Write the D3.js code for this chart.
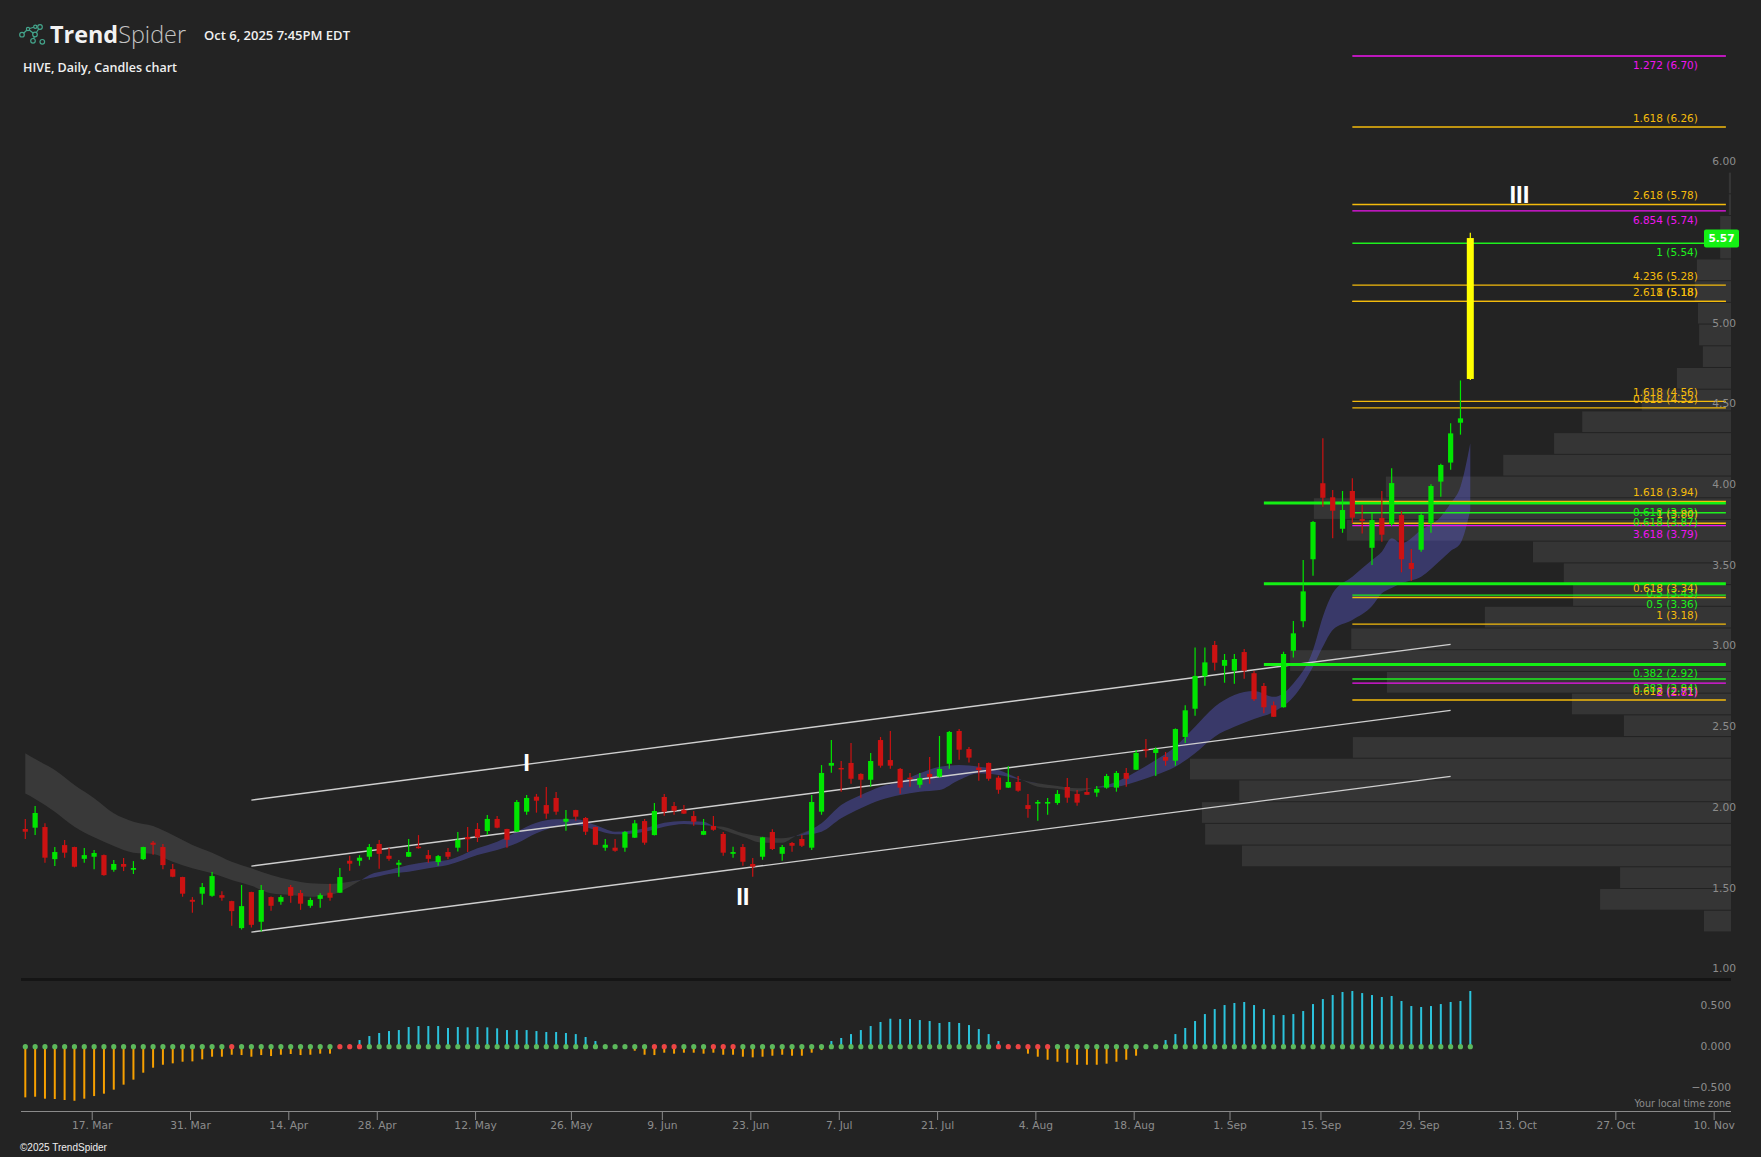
<!DOCTYPE html>
<html>
<head>
<meta charset="utf-8">
<script src="https://cdn.jsdelivr.net/npm/d3@7"></script>
<style>
html, body { margin: 0; padding: 0; background: #232323; }
svg { display: block; }
</style>
</head>
<body>
<div id="chart"></div>
<script>

// HIVE daily candles, first bar 6 Mar 2025
var firstDay = new Date(2025, 2, 6);
var holidays = ["2025-04-18", "2025-05-26", "2025-06-19", "2025-07-04", "2025-09-01"];

var opens = [1.911,1.919,1.923,1.724,1.811,1.799,1.726,1.739,1.749,1.658,
  1.694,1.658,1.724,1.826,1.799,1.662,1.613,1.472,1.510,1.497,
  1.501,1.464,1.297,1.520,1.336,1.489,1.460,1.551,1.514,1.435,
  1.478,1.516,1.516,1.714,1.714,1.739,1.818,1.745,1.689,1.739,
  1.801,1.749,1.706,1.768,1.795,1.861,1.911,1.898,1.973,1.911,
  1.894,2.018,2.111,2.059,2.103,1.956,2.028,1.979,1.923,1.795,
  1.795,1.795,1.857,1.960,1.873,2.109,2.053,2.030,1.991,1.875,
  1.929,1.880,1.757,1.799,1.694,1.739,1.892,1.757,1.824,1.849,
  1.795,2.018,2.303,2.289,2.320,2.252,2.216,2.462,2.338,2.283,
  2.229,2.185,2.252,2.235,2.315,2.518,2.406,2.291,2.320,2.229,
  2.167,2.202,2.059,2.068,2.068,2.072,2.171,2.128,2.140,2.136,
  2.167,2.167,2.258,2.278,2.406,2.382,2.357,2.334,2.481,2.656,
  2.857,3.051,2.922,2.892,3.007,2.876,2.797,2.677,2.665,3.015,
  3.198,3.582,4.053,3.966,3.771,4.005,3.831,3.653,3.838,3.802,
  3.856,3.559,3.641,3.805,4.063,4.181,4.428,4.699];
var highs = [1.973,2.053,1.946,1.799,1.842,1.801,1.793,1.780,1.752,1.718,
  1.731,1.712,1.801,1.836,1.818,1.694,1.615,1.489,1.576,1.644,
  1.525,1.466,1.564,1.522,1.564,1.492,1.501,1.564,1.533,1.485,
  1.512,1.571,1.669,1.745,1.749,1.818,1.842,1.793,1.718,1.849,
  1.873,1.780,1.749,1.793,1.892,1.923,1.948,1.997,1.991,1.913,
  2.090,2.121,2.128,2.171,2.140,2.028,2.030,1.985,1.925,1.849,
  1.849,1.898,1.966,1.973,2.072,2.128,2.078,2.059,2.022,1.973,
  1.991,1.892,1.801,1.818,1.731,1.862,1.909,1.811,1.830,1.873,
  2.121,2.307,2.462,2.332,2.444,2.256,2.382,2.481,2.518,2.289,
  2.258,2.258,2.357,2.487,2.518,2.530,2.419,2.320,2.322,2.241,
  2.301,2.239,2.128,2.090,2.103,2.152,2.227,2.152,2.227,2.177,
  2.252,2.270,2.289,2.400,2.468,2.417,2.388,2.534,2.677,3.036,
  3.036,3.075,2.995,2.995,3.026,2.890,2.815,2.700,3.009,3.199,
  3.577,3.819,4.331,4.011,4.005,4.084,3.918,3.870,4.005,4.146,
  3.881,3.646,3.867,4.046,4.174,4.424,4.690,5.605];
var lows = [1.849,1.873,1.702,1.681,1.733,1.673,1.702,1.662,1.621,1.646,
  1.650,1.632,1.718,1.751,1.662,1.612,1.491,1.392,1.441,1.491,
  1.466,1.311,1.288,1.301,1.276,1.404,1.441,1.454,1.410,1.423,
  1.423,1.466,1.514,1.652,1.683,1.720,1.664,1.714,1.615,1.737,
  1.789,1.702,1.683,1.724,1.772,1.768,1.830,1.873,1.915,1.795,
  1.892,1.999,2.012,1.974,1.999,1.900,1.962,1.873,1.811,1.776,
  1.770,1.770,1.855,1.813,1.871,1.993,1.999,2.004,1.931,1.873,
  1.900,1.745,1.733,1.683,1.615,1.720,1.780,1.714,1.770,1.799,
  1.780,1.999,2.260,2.142,2.191,2.105,2.173,2.291,2.284,2.129,
  2.173,2.167,2.191,2.229,2.284,2.340,2.322,2.210,2.210,2.129,
  2.165,2.142,1.981,1.962,1.999,2.061,2.074,2.055,2.121,2.111,
  2.160,2.142,2.173,2.276,2.353,2.239,2.303,2.303,2.444,2.613,
  2.798,2.892,2.817,2.811,2.842,2.704,2.628,2.604,2.663,2.974,
  3.161,3.480,3.907,3.712,3.746,3.805,3.742,3.546,3.691,3.788,
  3.501,3.449,3.629,3.746,3.970,4.137,4.354,4.693];
var closes = [1.894,2.010,1.733,1.768,1.764,1.677,1.749,1.762,1.625,1.694,
  1.677,1.669,1.799,1.813,1.687,1.615,1.510,1.460,1.551,1.619,
  1.485,1.402,1.433,1.317,1.533,1.435,1.489,1.497,1.448,1.471,
  1.501,1.485,1.613,1.696,1.733,1.799,1.757,1.726,1.702,1.768,
  1.793,1.726,1.743,1.739,1.844,1.847,1.859,1.973,1.919,1.844,
  2.078,2.103,2.086,2.006,2.018,1.974,1.987,1.894,1.813,1.813,
  1.776,1.892,1.946,1.826,2.022,2.018,2.024,2.006,1.956,1.898,
  1.906,1.764,1.768,1.708,1.677,1.859,1.787,1.799,1.807,1.807,
  2.078,2.258,2.320,2.280,2.222,2.216,2.332,2.303,2.303,2.167,
  2.221,2.227,2.233,2.283,2.512,2.402,2.353,2.276,2.222,2.154,
  2.202,2.148,2.035,2.078,2.078,2.128,2.105,2.074,2.123,2.159,
  2.239,2.258,2.222,2.382,2.396,2.406,2.334,2.530,2.646,2.859,
  2.943,2.941,2.958,2.964,2.892,2.715,2.665,2.606,2.995,3.123,
  3.383,3.813,3.963,3.883,3.887,3.840,3.819,3.825,3.734,4.054,
  3.582,3.522,3.856,4.036,4.166,4.362,4.455,5.572];
var highlightBar = 147;
var lastPrice = 5.57;

// moving-average ribbon (sampled bars)
var ribbonIdx = [0,1,3,5,7,9,11,13,15,17,19,21,23,25,27,29,31,33,
  35,37,39,41,43,46,48,50,52,54,56,58,60,63,65,67,69,
  71,73,75,77,
  81,83,85,87,89,91,93,95,97,99,
  103,105,107,
  111,113,115,117,119,121,123,125,127,129,131,132,133,135,137,138,139,140,142,144,145,146,147];
var ribbonFast = [2.13,2.097,2.018,1.925,1.859,1.805,1.764,1.756,1.708,1.667,1.636,1.595,1.559,1.512,1.502,1.491,1.502,1.553,
  1.626,1.657,1.688,1.708,1.719,1.791,1.832,1.894,1.950,1.971,1.971,1.935,1.894,1.915,1.950,1.960,1.956,
  1.904,1.863,1.826,1.826,
  1.946,2.059,2.121,2.173,2.204,2.256,2.297,2.307,2.297,2.276,
  2.173,2.160,2.142,
  2.204,2.266,2.338,2.421,2.544,2.668,2.741,2.766,2.730,2.813,3.020,3.226,3.371,3.474,3.577,3.629,3.712,3.681,3.763,3.846,3.929,4.031,4.300];
var ribbonSlow = [2.38,2.344,2.276,2.183,2.101,2.008,1.956,1.929,1.873,1.812,1.764,1.708,1.667,1.626,1.595,1.574,1.570,1.584,
  1.605,1.632,1.646,1.667,1.688,1.750,1.781,1.822,1.884,1.925,1.935,1.904,1.878,1.894,1.925,1.942,1.935,
  1.925,1.884,1.863,1.853,
  1.894,1.977,2.039,2.090,2.121,2.142,2.152,2.214,2.256,2.245,
  2.194,2.177,2.163,
  2.173,2.204,2.245,2.297,2.380,2.483,2.544,2.592,2.636,2.728,2.916,3.040,3.144,3.206,3.292,3.371,3.404,3.433,3.474,3.577,3.633,3.681,3.887];

// parallel channel: start/end bar, prices at both ends
var channelIdx = [23, 145];
var channelStart = [2.090, 1.681, 1.272];
var channelEnd = [3.055, 2.646, 2.237];

// elliott wave labels
var waveText = ["I", "II", "III"];
var waveIdx = [51, 73, 152];
var wavePrice = [2.27, 1.44, 5.79];

// fibonacci levels
var fibPrice = [6.70, 6.26, 5.78, 5.74, 5.54, 5.28, 5.18, 5.18, 4.56, 4.52, 3.94, 3.93,
  3.87, 3.805, 3.79, 3.43, 3.36, 3.345, 3.18, 2.93, 2.84, 2.815, 2.71];
var fibText = ["1.272 (6.70)", "1.618 (6.26)", "2.618 (5.78)", "6.854 (5.74)", "1 (5.54)",
  "4.236 (5.28)", "2.618 (5.18)", "1 (5.18)", "1.618 (4.56)", "0.618 (4.52)", "1.618 (3.94)",
  "0.618 (3.93)", "0.618 (3.87)", "1 (3.80)", "3.618 (3.79)", "0.5 (3.43)", "0.5 (3.36)",
  "0.618 (3.34)", "1 (3.18)", "0.382 (2.92)", "0.382 (2.84)", "2 (2.81)", "0.618 (2.71)"];
var fibKind = ["m", "y", "y", "m", "g", "y", "y", "y", "y", "y", "y", "G",
  "g", "y", "m", "G", "g", "y", "y", "G", "g", "m", "y"];
var fibFrom = { m: 135, y: 135, g: 135, G: 126 };
var fibTo = 173;

// volume profile (relative volume per price row, bottom to top)
var profileLow = 1.27;
var profileStep = 0.1345;
var profileVol = [5.0, 24.2, 20.5, 90.4, 97.2, 97.8, 90.9, 100, 69.9, 19.8, 29.4, 63.6,
  81.5, 70.2, 45.5, 29.2, 30.9, 36.6, 71.0, 77.1, 63.8, 42.1, 32.7, 27.5, 16.5, 10.0,
  5.2, 5.9, 6.1, 6.7, 6.3, 2.0, 2.0, 0.4, 0.4];

// momentum histogram + squeeze dots
var momentum = [-0.618,-0.610,-0.634,-0.638,-0.650,-0.659,-0.634,-0.602,-0.573,-0.524,
  -0.463,-0.402,-0.317,-0.256,-0.220,-0.203,-0.183,-0.179,-0.154,-0.122,
  -0.122,-0.098,-0.102,-0.122,-0.102,-0.114,-0.098,-0.089,-0.102,-0.098,
  -0.085,-0.085,0,0,0.081,0.130,0.167,0.191,0.203,0.240,
  0.252,0.252,0.252,0.228,0.240,0.236,0.240,0.236,0.224,0.203,
  0.203,0.203,0.191,0.179,0.179,0.167,0.154,0.118,0.069,0,
  0,0,-0.049,-0.098,-0.102,-0.073,-0.085,-0.073,-0.073,-0.085,
  -0.073,-0.098,-0.098,-0.122,-0.130,-0.122,-0.110,-0.098,-0.110,-0.110,
  -0.073,-0.041,0.069,0.106,0.154,0.203,0.252,0.301,0.341,0.337,
  0.337,0.325,0.313,0.289,0.301,0.289,0.264,0.215,0.154,0.069,
  0,0,-0.085,-0.122,-0.159,-0.183,-0.195,-0.220,-0.220,-0.220,
  -0.207,-0.183,-0.159,-0.110,0,0,0.081,0.154,0.228,0.313,
  0.398,0.459,0.508,0.533,0.545,0.508,0.459,0.386,0.386,0.398,
  0.435,0.520,0.581,0.630,0.667,0.679,0.654,0.630,0.606,0.618,
  0.557,0.496,0.484,0.496,0.520,0.545,0.557,0.679];
var squeezeOn = [21, 32, 33, 34, 64, 65, 66, 70, 71, 72, 99, 100, 101, 102, 103, 104];

// axis ticks
var priceTicks = [1.0, 1.5, 2.0, 2.5, 3.0, 3.5, 4.0, 4.5, 5.0, 5.5, 6.0];
var momTicks = [0.5, 0, -0.5];
var dateTicks = ["2025-03-17","2025-03-31","2025-04-14","2025-04-28","2025-05-12","2025-05-26",
  "2025-06-09","2025-06-23","2025-07-07","2025-07-21","2025-08-04","2025-08-18","2025-09-01",
  "2025-09-15","2025-09-29","2025-10-13","2025-10-27","2025-11-10"];


createChart();


function createChart() {

  var W = 1761, H = 1157;
  var left = 21, right = 1731;
  var parse = d3.timeParse("%Y-%m-%d");
  var fmtDay = d3.timeFormat("%Y-%m-%d");

  // trading calendar (weekdays minus holidays), runs into the future for the axis
  var days = [];
  var d = new Date(firstDay);
  while (d <= new Date(2025, 10, 20)) {
    var wd = d.getDay();
    if (wd != 0 && wd != 6 && holidays.indexOf(fmtDay(d)) < 0) days.push(new Date(d));
    d.setDate(d.getDate() + 1);
  }
  var dateToIdx = d3.scaleTime().domain(days).range(days.map(function(v, i) { return i; }));

  var x = d3.scaleLinear().domain([0, 147]).range([25.3, 1470.3]);
  var y = d3.scaleLinear().domain([1.0, 6.70]).range([976, 56]);
  var ym = d3.scaleLinear().domain([-0.5, 0.5]).range([1087.7, 1005.7]);
  var vw = d3.scaleLinear().domain([0, 100]).range([0, 541]);

  var svg = d3.select("#chart").append("svg")
    .attr("width", W).attr("height", H)
    .style("font-family", "'DejaVu Sans', sans-serif");

  svg.append("rect").attr("width", W).attr("height", H).attr("fill", "#232323");

  svg.append("clipPath").attr("id", "pclip")
    .append("rect").attr("x", left).attr("y", 0).attr("width", right - left).attr("height", 977);

  var plot = svg.append("g").attr("clip-path", "url(#pclip)");

  // volume profile
  plot.append("g").selectAll("rect")
    .data(profileVol)
    .enter().append("rect")
    .attr("x", function(v) { return right - vw(v); })
    .attr("y", function(v, k) { return y(profileLow + (k + 1) * profileStep); })
    .attr("width", function(v) { return vw(v); })
    .attr("height", function(v, k) { return y(profileLow + k * profileStep) - y(profileLow + (k + 1) * profileStep) - 1; })
    .attr("fill", "#353535");

  // ribbon: add crossing points so the two colours meet cleanly
  var pts = [];
  for (var k = 0; k < ribbonIdx.length; k++) {
    if (k > 0) {
      var d0 = ribbonFast[k - 1] - ribbonSlow[k - 1];
      var d1 = ribbonFast[k] - ribbonSlow[k];
      if (d0 * d1 < 0) {
        var t = d0 / (d0 - d1);
        var cv = ribbonFast[k - 1] + t * (ribbonFast[k] - ribbonFast[k - 1]);
        pts.push({ i: ribbonIdx[k - 1] + t * (ribbonIdx[k] - ribbonIdx[k - 1]), f: cv, s: cv });
      }
    }
    pts.push({ i: ribbonIdx[k], f: ribbonFast[k], s: ribbonSlow[k] });
  }
  var bull = d3.area().curve(d3.curveMonotoneX)
    .x(function(p) { return x(p.i); })
    .y0(function(p) { return y(p.s); })
    .y1(function(p) { return y(Math.max(p.f, p.s)); });
  var bear = d3.area().curve(d3.curveMonotoneX)
    .x(function(p) { return x(p.i); })
    .y0(function(p) { return y(p.f); })
    .y1(function(p) { return y(Math.max(p.f, p.s)); });
  plot.append("path").attr("d", bear(pts)).attr("fill", "rgba(255,255,255,0.1)");
  plot.append("path").attr("d", bull(pts)).attr("fill", "rgba(95,95,220,0.38)");

  // channel lines
  plot.append("g").selectAll("line")
    .data(channelStart)
    .enter().append("line")
    .attr("x1", x(channelIdx[0]))
    .attr("x2", x(channelIdx[1]))
    .attr("y1", function(v) { return y(v); })
    .attr("y2", function(v, i) { return y(channelEnd[i]); })
    .attr("stroke", "#cfcfcf")
    .attr("stroke-width", 1.3);

  // fibonacci lines + labels
  var fibColor = { m: "#f014f0", y: "#f4bb0c", g: "#1ef01e", G: "#14f014" };
  var order = ["G", "g", "y", "m"];
  var fibIdx = d3.range(fibPrice.length).sort(function(a, b) {
    return order.indexOf(fibKind[a]) - order.indexOf(fibKind[b]);
  });
  var fib = plot.append("g");
  fib.selectAll("line")
    .data(fibIdx)
    .enter().append("line")
    .attr("x1", function(i) { return x(fibFrom[fibKind[i]]); })
    .attr("x2", x(fibTo))
    .attr("y1", function(i) { return y(fibPrice[i]); })
    .attr("y2", function(i) { return y(fibPrice[i]); })
    .attr("stroke", function(i) { return fibColor[fibKind[i]]; })
    .attr("stroke-width", function(i) { return fibKind[i] == "G" ? 3 : 1.3; });

  // candles
  var bars = plot.append("g").selectAll("g")
    .data(closes)
    .enter().append("g");
  var candleColor = function(i) {
    if (i == highlightBar) return "#ffff00";
    return closes[i] >= opens[i] ? "#00e600" : "#cc1212";
  };
  bars.append("line")
    .attr("x1", function(c, i) { return x(i); })
    .attr("x2", function(c, i) { return x(i); })
    .attr("y1", function(c, i) { return y(highs[i]); })
    .attr("y2", function(c, i) { return y(lows[i]); })
    .attr("stroke", function(c, i) { return candleColor(i); })
    .attr("stroke-width", 1.2);
  bars.append("rect")
    .attr("x", function(c, i) { return x(i) - (i == highlightBar ? 3.5 : 2.6); })
    .attr("width", function(c, i) { return i == highlightBar ? 7 : 5.2; })
    .attr("y", function(c, i) { return y(Math.max(opens[i], closes[i])); })
    .attr("height", function(c, i) { return Math.max(1.5, Math.abs(y(opens[i]) - y(closes[i]))); })
    .attr("fill", function(c, i) { return candleColor(i); });

  // fib labels on top (they overlap each other in the original too)
  fib.selectAll("text")
    .data(fibIdx)
    .enter().append("text")
    .attr("x", x(fibTo) - 28)
    .attr("y", function(i) {
      var ly = y(fibPrice[i]);
      return fibKind[i] == "y" ? ly - 5.3 : ly + 12.8;
    })
    .attr("text-anchor", "end")
    .attr("font-size", "10.5px")
    .attr("fill", function(i) { return fibColor[fibKind[i]]; })
    .text(function(i) { return fibText[i]; });

  // wave labels
  plot.append("g").selectAll("text")
    .data(waveText)
    .enter().append("text")
    .attr("x", function(w, i) { return x(waveIdx[i]); })
    .attr("y", function(w, i) { return y(wavePrice[i]); })
    .attr("text-anchor", "middle")
    .attr("font-family", "'Liberation Sans', Arial, sans-serif")
    .attr("font-weight", "bold")
    .attr("font-size", "24px")
    .attr("fill", "#ffffff")
    .text(function(w) { return w; });

  // price axis
  svg.append("g").selectAll("text")
    .data(priceTicks)
    .enter().append("text")
    .attr("x", 1736)
    .attr("y", function(v) { return y(v) - 7.5; })
    .attr("dy", "0.35em")
    .attr("text-anchor", "end")
    .attr("font-size", "10.7px")
    .attr("fill", "#8c8c8c")
    .text(function(v) { return v.toFixed(2); });

  // last price tag
  var ly = y(lastPrice);
  svg.append("rect").attr("x", 1704).attr("y", ly - 9).attr("width", 35).attr("height", 18)
    .attr("rx", 2).attr("fill", "#14f014");
  svg.append("text").attr("x", 1721.5).attr("y", ly).attr("dy", "0.36em")
    .attr("text-anchor", "middle").attr("font-size", "10.5px").attr("font-weight", "bold")
    .attr("fill", "#ffffff").text(lastPrice.toFixed(2));

  // pane separator
  svg.append("rect").attr("x", left).attr("y", 978).attr("width", right - left).attr("height", 3)
    .attr("fill", "#151515");

  // momentum histogram
  var mom = svg.append("g");
  mom.selectAll("line")
    .data(momentum)
    .enter().append("line")
    .attr("x1", function(v, i) { return x(i); })
    .attr("x2", function(v, i) { return x(i); })
    .attr("y1", ym(0))
    .attr("y2", function(v) { return ym(v); })
    .attr("stroke", function(v) { return v >= 0 ? "#2bc3dc" : "#f7a000"; })
    .attr("stroke-width", 2);
  mom.selectAll("circle")
    .data(momentum)
    .enter().append("circle")
    .attr("cx", function(v, i) { return x(i); })
    .attr("cy", ym(0))
    .attr("r", 2.6)
    .attr("fill", function(v, i) { return squeezeOn.indexOf(i) >= 0 ? "#ec4545" : "#5cb85c"; });

  svg.append("g").selectAll("text")
    .data(momTicks)
    .enter().append("text")
    .attr("x", 1731)
    .attr("y", function(v) { return ym(v); })
    .attr("dy", "0.35em")
    .attr("text-anchor", "end")
    .attr("font-size", "10.7px")
    .attr("fill", "#8c8c8c")
    .text(function(v) { return v.toFixed(3).replace("-", "\u2212"); });

  svg.append("text").attr("x", 1731).attr("y", 1104).attr("dy", "0.35em")
    .attr("text-anchor", "end").attr("font-size", "9.6px").attr("fill", "#8c8c8c")
    .text("Your local time zone");

  // date axis
  svg.append("line").attr("x1", left).attr("x2", right).attr("y1", 1111.5).attr("y2", 1111.5)
    .attr("stroke", "#8a8a8a").attr("stroke-width", 1);
  var fmtTick = d3.timeFormat("%-d. %b");
  var ticks = svg.append("g").selectAll("g")
    .data(dateTicks)
    .enter().append("g")
    .attr("transform", function(s) { return "translate(" + (x(dateToIdx(parse(s))) - 1.9) + ",0)"; });
  ticks.append("line").attr("y1", 1111.5).attr("y2", 1120).attr("stroke", "#8a8a8a");
  ticks.append("text").attr("y", 1125.7).attr("dy", "0.35em").attr("text-anchor", "middle")
    .attr("font-size", "10.7px").attr("fill", "#8c8c8c")
    .text(function(s) { return fmtTick(parse(s)); });

  // header
  var logo = svg.append("g").attr("stroke", "#44a58c").attr("stroke-width", 1.2).attr("fill", "none");
  var nodes = [[22, 34.7], [28, 29], [35.3, 26.7], [40, 27], [35, 34.5], [33, 40.8], [42.3, 41.8]];
  var links = [[0, 1], [1, 2], [1, 4], [4, 5], [4, 3]];
  logo.selectAll("line").data(links).enter().append("line")
    .attr("x1", function(l) { return nodes[l[0]][0]; }).attr("y1", function(l) { return nodes[l[0]][1]; })
    .attr("x2", function(l) { return nodes[l[1]][0]; }).attr("y2", function(l) { return nodes[l[1]][1]; });
  logo.selectAll("circle").data(nodes).enter().append("circle")
    .attr("cx", function(n) { return n[0]; }).attr("cy", function(n) { return n[1]; })
    .attr("r", function(n, i) { return i == 1 || i == 2 ? 1.6 : 2.3; })
    .attr("fill", "#232323");

  var brand = svg.append("text").attr("x", 50).attr("y", 43.3)
    .attr("font-family", "'Open Sans', sans-serif").attr("font-size", "23.4px");
  brand.append("tspan").attr("font-weight", 700).attr("fill", "#f2f2f2").text("Trend");
  brand.append("tspan").attr("font-weight", 300).attr("fill", "#c4c4c4").text("Spider");

  svg.append("text").attr("x", 204).attr("y", 35.7).attr("dy", "0.35em")
    .attr("font-family", "'Open Sans', sans-serif").attr("font-weight", 600)
    .attr("font-size", "13px").attr("fill", "#f0f0f0")
    .text("Oct 6, 2025 7:45PM EDT");
  svg.append("text").attr("x", 23).attr("y", 67.7).attr("dy", "0.35em")
    .attr("font-family", "'Open Sans', sans-serif").attr("font-weight", 600)
    .attr("font-size", "12.5px").attr("fill", "#f0f0f0")
    .text("HIVE, Daily, Candles chart");

  svg.append("text").attr("x", 20).attr("y", 1147.3).attr("dy", "0.35em")
    .attr("font-family", "'Liberation Sans', Arial, sans-serif")
    .attr("font-size", "10px").attr("fill", "#eeeeee")
    .text("\u00a92025 TrendSpider");
}
</script>
</body>
</html>
